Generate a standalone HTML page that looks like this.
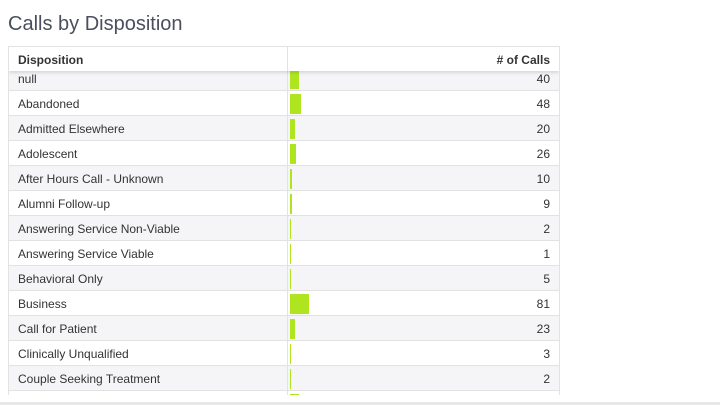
<!DOCTYPE html>
<html><head><style>
body{margin:0;width:720px;height:405px;background:#fff;font-family:"Liberation Sans",sans-serif;overflow:hidden;position:relative}
.t{position:absolute;left:8px;top:13px;font-size:20px;color:#4a4f5e}
.tbl{position:absolute;left:8px;top:46px;width:550px;height:349px;overflow:hidden;border-left:1px solid #e2e2e2;border-right:1px solid #e2e2e2}
.hd{position:absolute;left:0;top:0;width:550px;height:24px;background:#fff;border-top:1px solid #e2e2e2;box-shadow:0 2px 3px rgba(0,0,0,.12);z-index:2;font-size:12px;font-weight:bold;color:#333}
.row{position:absolute;left:0;width:550px;height:24px;border-bottom:1px solid #e2e2e2;font-size:12px;color:#333}
.row.g{background:#f5f5f7}
.c1{position:absolute;left:9px;top:6px}
.div{position:absolute;left:278px;top:0;bottom:0;border-left:1px solid #e2e2e2}
.bar{position:absolute;left:281px;top:3px;height:20px;background:#aee51f}
.n{position:absolute;right:9px;top:6px}
.bot{position:absolute;left:0;top:402px;width:720px;height:3px;background:#e8e8e8}
</style></head><body>
<div class="t">Calls by Disposition</div>
<div class="tbl">
<div class="hd"><span class="c1" style="top:6px">Disposition</span><div class="div"></div><span class="n" style="top:6px"># of Calls</span></div>
<div class="row g" style="top:20px"><span class="c1">null</span><div class="div"></div><div class="bar" style="width:9px"></div><span class="n">40</span></div>
<div class="row" style="top:45px"><span class="c1">Abandoned</span><div class="div"></div><div class="bar" style="width:11px"></div><span class="n">48</span></div>
<div class="row g" style="top:70px"><span class="c1">Admitted Elsewhere</span><div class="div"></div><div class="bar" style="width:5px"></div><span class="n">20</span></div>
<div class="row" style="top:95px"><span class="c1">Adolescent</span><div class="div"></div><div class="bar" style="width:6px"></div><span class="n">26</span></div>
<div class="row g" style="top:120px"><span class="c1">After Hours Call - Unknown</span><div class="div"></div><div class="bar" style="width:2px"></div><span class="n">10</span></div>
<div class="row" style="top:145px"><span class="c1">Alumni Follow-up</span><div class="div"></div><div class="bar" style="width:2px"></div><span class="n">9</span></div>
<div class="row g" style="top:170px"><span class="c1">Answering Service Non-Viable</span><div class="div"></div><div class="bar" style="width:1px"></div><span class="n">2</span></div>
<div class="row" style="top:195px"><span class="c1">Answering Service Viable</span><div class="div"></div><div class="bar" style="width:1px"></div><span class="n">1</span></div>
<div class="row g" style="top:220px"><span class="c1">Behavioral Only</span><div class="div"></div><div class="bar" style="width:1px"></div><span class="n">5</span></div>
<div class="row" style="top:245px"><span class="c1">Business</span><div class="div"></div><div class="bar" style="width:19px"></div><span class="n">81</span></div>
<div class="row g" style="top:270px"><span class="c1">Call for Patient</span><div class="div"></div><div class="bar" style="width:5px"></div><span class="n">23</span></div>
<div class="row" style="top:295px"><span class="c1">Clinically Unqualified</span><div class="div"></div><div class="bar" style="width:1px"></div><span class="n">3</span></div>
<div class="row g" style="top:320px"><span class="c1">Couple Seeking Treatment</span><div class="div"></div><div class="bar" style="width:1px"></div><span class="n">2</span></div>
<div class="row" style="top:345px"><span class="c1"></span><div class="div"></div><div class="bar" style="width:9px"></div><span class="n"></span></div>
</div>
<div class="bot"></div>
</body></html>
